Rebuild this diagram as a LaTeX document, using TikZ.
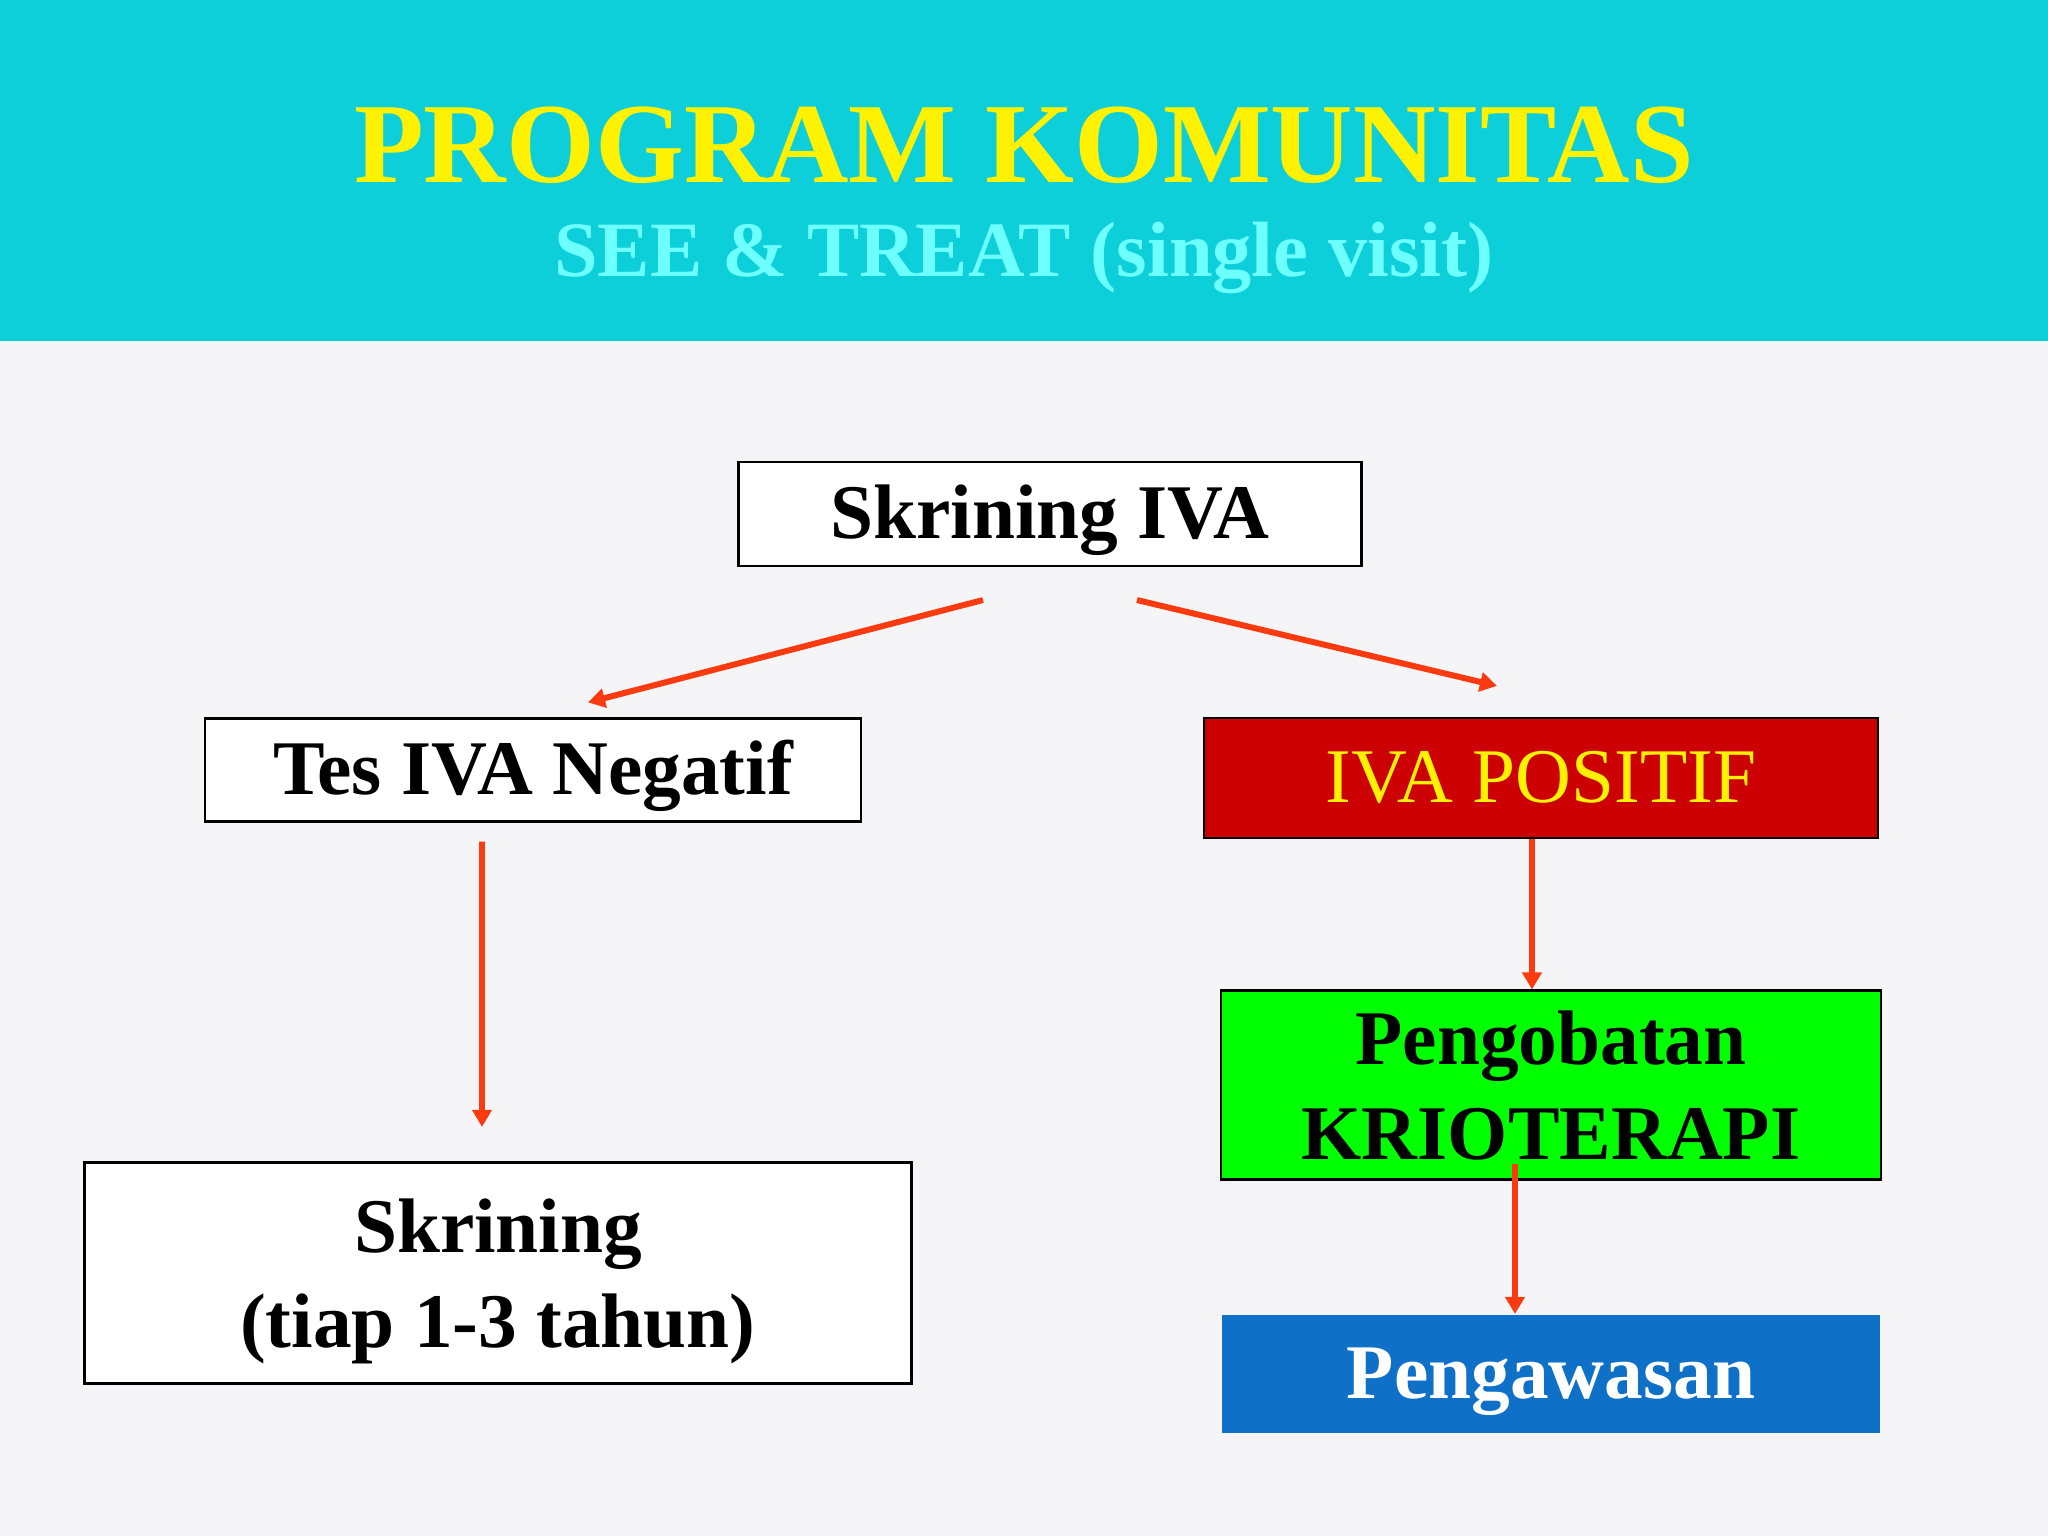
\documentclass[tikz,border=0pt]{standalone}
\usepackage{fontspec}
\setmainfont{Liberation Serif}
\usetikzlibrary{calc,arrows.meta}
\definecolor{bandcyan}{RGB}{12,207,218}
\definecolor{pagegray}{RGB}{245,245,247}
\definecolor{subcyan}{RGB}{110,255,255}
\definecolor{arrowred}{RGB}{252,58,16}
\definecolor{posred}{RGB}{204,0,0}
\definecolor{obatgreen}{RGB}{0,255,0}
\definecolor{awasblue}{RGB}{15,112,200}
\tikzset{
	flowbox/.style={draw=black, line width=0.6pt, inner sep=0pt, align=center,
		font=\fontsize{22}{27}\selectfont\bfseries},
	oneline/.style={text height=13.8pt, text depth=0pt},
	twoline/.style={text depth=-2pt},
	flowarrow/.style={draw=arrowred, line width=1.7pt, -{Triangle[length=1.7mm,width=1.9mm]}}
}

\begin{document}
\begin{tikzpicture}
		%%%%% START %%%%%
		
		\useasboundingbox (0, 0) rectangle (20.48, 15.36);
		\fill[pagegray] (0, 0) rectangle (20.48, 15.36);
		\fill[bandcyan] (0, 11.95) rectangle (20.48, 15.36);
		
		\node[anchor=base, text=yellow, font=\fontsize{32.5}{39}\selectfont\bfseries] (judul) at (10.24, 13.53) {PROGRAM KOMUNITAS};
		\node[anchor=base, text=subcyan, font=\fontsize{22.3}{27}\selectfont\bfseries] (subjudul) at (10.24, 12.59) {SEE \& TREAT (single visit)};
		
		\node[flowbox, oneline, fill=white, minimum width=6.23cm, minimum height=1.04cm] (skrIVA) at (10.50, 10.22) {Skrining IVA};
		
		\node[flowbox, oneline, fill=white, minimum width=6.56cm, minimum height=1.03cm] (negatif) at (5.33, 7.66) {Tes IVA Negatif};
		\node[flowbox, oneline, fill=posred, text=yellow, font=\fontsize{22}{27}\selectfont, minimum width=6.74cm, minimum height=1.20cm] (positif) at (15.41, 7.58) {IVA POSITIF};
		
		\node[flowbox, twoline, fill=white, minimum width=8.27cm, minimum height=2.21cm] (skrUlang) at (4.98, 2.63) {Skrining\\(tiap 1-3 tahun)};
		\node[flowbox, twoline, fill=obatgreen, minimum width=6.60cm, minimum height=1.89cm] (obat) at (15.51, 4.51) {Pengobatan\\KRIOTERAPI};
		\node[flowbox, oneline, draw=none, fill=awasblue, text=white, minimum width=6.58cm, minimum height=1.18cm] (awas) at (15.51, 1.62) {Pengawasan};
		
		% loose arrow ends
		\coordinate (kiriA) at ($(skrIVA.south)+(-0.67,-0.33)$);
		\coordinate (kiriB) at ($(negatif.north)+(0.55,0.15)$);
		\coordinate (kananA) at ($(skrIVA.south)+(0.87,-0.33)$);
		\coordinate (kananB) at ($(positif.north)+(-0.44,0.31)$);
		\coordinate (negA) at ($(negatif.south)+(-0.51,-0.19)$);
		\coordinate (negB) at ($(skrUlang.north)+(-0.16,0.345)$);
		\coordinate (posA) at ($(positif.south)+(-0.09,0)$);
		\coordinate (obatA) at ($(obat.south)+(-0.36,0.165)$);
		
		\draw[flowarrow] (kiriA) -- (kiriB);
		\draw[flowarrow] (kananA) -- (kananB);
		\draw[flowarrow] (negA) -- (negB);
		\draw[flowarrow] (posA) -- (posA |- obat.north);
		\draw[flowarrow] (obatA) -- (obatA |- awas.north);
		
		%%%%% END %%%%%
	\end{tikzpicture}
\end{document}
